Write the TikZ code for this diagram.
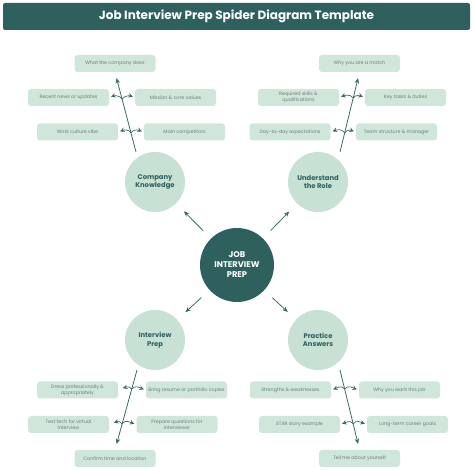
\documentclass[tikz,border=0pt]{standalone}
\usepackage{fontspec}
\setmainfont{Poppins}
\usetikzlibrary{positioning,arrows.meta}
\definecolor{tealdark}{HTML}{2E605E}
\definecolor{sagefill}{HTML}{C7E1D4}
\definecolor{sagebox}{HTML}{CFE6DA}
\definecolor{boxtext}{HTML}{6F7F7A}
\definecolor{linecol}{HTML}{3E6966}
\tikzset{
  titlebar/.style={rectangle, rounded corners=2pt, fill=tealdark, text=white, minimum width=467pt, minimum height=27pt, font=\fontsize{12}{14}\selectfont\bfseries},
  hub/.style={circle, fill=tealdark, text=white, minimum size=74pt, inner sep=0pt, align=center, font=\fontsize{8.3}{10}\selectfont\bfseries},
  topic/.style={circle, fill=sagefill, text=tealdark, minimum size=60pt, inner sep=0pt, align=center, font=\fontsize{6.8}{8.4}\selectfont\bfseries},
  leaf/.style={rectangle, rounded corners=3pt, fill=sagebox, text=boxtext, minimum width=81pt, minimum height=17pt, inner sep=1pt, align=center, font=\fontsize{4.8}{5.8}\selectfont},
  spoke/.style={-{Stealth[length=5.5pt,width=4.5pt]}, draw=linecol, line width=0.8pt},
  twig/.style={-{Stealth[length=4.5pt,width=4.5pt]}, draw=linecol, line width=0.7pt, shorten >=2pt},
}

\begin{document}
\begin{tikzpicture}[x=1pt,y=1pt]
\useasboundingbox (0,0) rectangle (474,470);
%the title and the circles
\node [titlebar] (title) at (236.5,453.5) {Job Interview Prep Spider Diagram Template};
\node [hub] (hub) at (237,205) {JOB\\INTERVIEW\\PREP};
\node [topic] (ck) at (155,288) {Company\\Knowledge};
\node [topic] (ur) at (318,288) {Understand\\the Role};
\node [topic] (ip) at (155,130) {Interview\\Prep};
\node [topic] (pa) at (318,130) {Practice\\Answers};
%the boxes of company knowledge
\node [leaf] (tl1) at (115,406.5) {What the company does};
\node [leaf] (tl2) at (68.5,372.5) {Recent news or updates};
\node [leaf] (tl3) at (175.5,372.5) {Mission \& core values};
\node [leaf] (tl4) at (77.5,338) {Work culture vibe};
\node [leaf] (tl5) at (184.5,338) {Main competitors};
%the boxes of understand the role
\node [leaf] (tr1) at (359.5,406.5) {Why you are a match};
\node [leaf] (tr2) at (298.5,372.5) {Required skills \&\\qualifications};
\node [leaf] (tr3) at (405.5,372.5) {Key tasks \& duties};
\node [leaf] (tr4) at (290,338) {Day-to-day expectations};
\node [leaf] (tr5) at (396.5,338) {Team structure \& manager};
%the boxes of interview prep
\node [leaf] (bl1) at (77.5,80) {Dress professionally \&\\appropriately};
\node [leaf] (bl2) at (186.5,80) {Bring resume or portfolio copies};
\node [leaf] (bl3) at (68.5,45.5) {Test tech for virtual\\interview};
\node [leaf] (bl4) at (177,45.5) {Prepare questions for\\interviewer};
\node [leaf] (bl5) at (115,11.5) {Confirm time and location};
%the boxes of practice answers
\node [leaf] (br1) at (290.5,80) {Strengths \& weaknesses};
\node [leaf] (br2) at (399.5,80) {Why you want this job};
\node [leaf] (br3) at (299.5,45.5) {STAR story example};
\node [leaf] (br4) at (407.5,45.5) {Long-term career goals};
\node [leaf] (br5) at (359.5,11.5) {Tell me about yourself};
\coordinate (ckroot) at (136,318);
\coordinate (urroot) at (340,318);
\coordinate (iproot) at (137,100);
\coordinate (paroot) at (340,100);
;%drawings of the spokes
\draw[spoke, shorten <=11pt, shorten >=11pt] (hub) -- (ck);

\draw[spoke, shorten <=11pt, shorten >=11pt] (hub) -- (ur);

\draw[spoke, shorten <=11pt, shorten >=11pt] (hub) -- (ip);

\draw[spoke, shorten <=11pt, shorten >=11pt] (hub) -- (pa);

%the stems and their twigs
\draw[spoke, shorten >=6pt] (ckroot) -- coordinate[pos=0.24] (ckA) coordinate[pos=0.66] (ckB) (tl1.south);
\draw[twig] (ckB) to[out=120,in=20] (tl2.east);
\draw[twig] (ckB) to[out=60,in=160] (tl3.west);
\draw[twig] (ckA) to[out=120,in=20] (tl4.east);
\draw[twig] (ckA) to[out=60,in=160] (tl5.west);

\draw[spoke, shorten >=6pt] (urroot) -- coordinate[pos=0.24] (urA) coordinate[pos=0.675] (urB) (tr1.south);
\draw[twig] (urB) to[out=120,in=20] (tr2.east);
\draw[twig] (urB) to[out=60,in=160] (tr3.west);
\draw[twig] (urA) to[out=120,in=20] (tr4.east);
\draw[twig] (urA) to[out=60,in=160] (tr5.west);

\draw[spoke, shorten >=6pt] (iproot) -- coordinate[pos=0.24] (ipA) coordinate[pos=0.675] (ipB) (bl5.north);
\draw[twig, shorten >=5pt] (ipA) to[out=120,in=20] (bl1.east);
\draw[twig] (ipA) to[out=60,in=160] (bl2.west);
\draw[twig, shorten >=5pt] (ipB) to[out=120,in=20] (bl3.east);
\draw[twig] (ipB) to[out=60,in=160] (bl4.west);

\draw[spoke, shorten >=6pt] (paroot) -- coordinate[pos=0.24] (paA) coordinate[pos=0.675] (paB) (br5.north);
\draw[twig] (paA) to[out=120,in=20] (br1.east);
\draw[twig] (paA) to[out=60,in=160] (br2.west);
\draw[twig] (paB) to[out=120,in=20] (br3.east);
\draw[twig] (paB) to[out=60,in=160] (br4.west);

\end{tikzpicture}
\end{document}
